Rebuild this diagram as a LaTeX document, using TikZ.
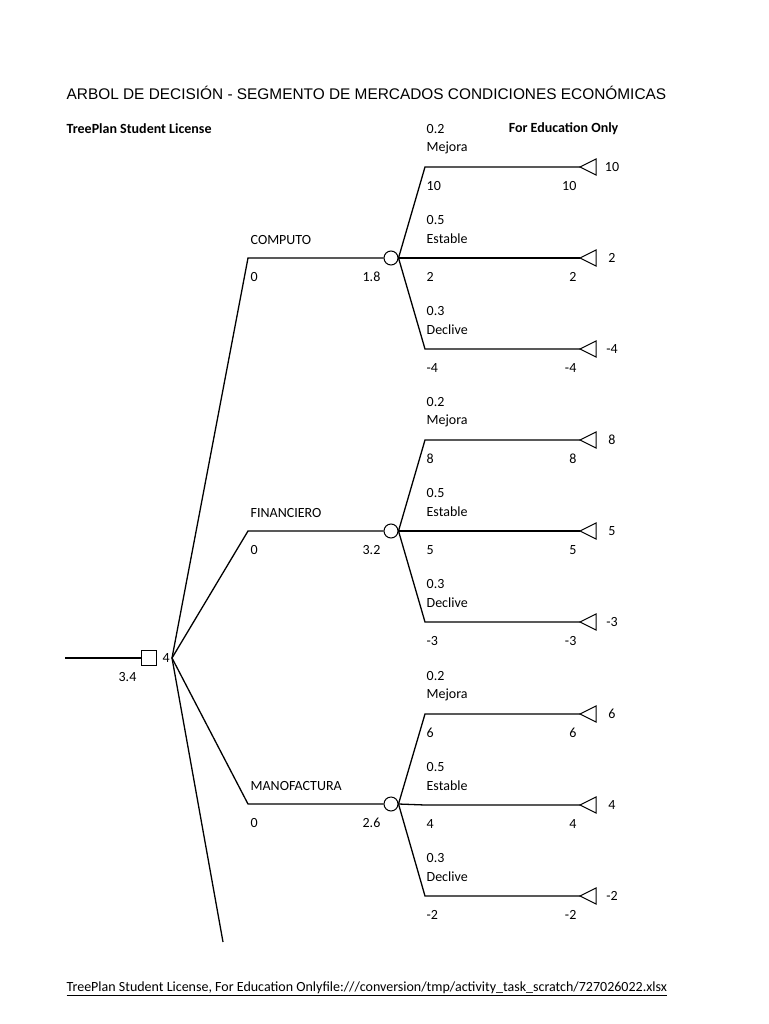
\documentclass[tikz,border=0pt]{standalone}
\usepackage{fontspec}
\setmainfont{Carlito}
\newfontfamily\arialf{Liberation Sans}
\begin{document}
\begin{tikzpicture}[x=1pt,y=-1pt,line width=1.3pt,
  lbl/.style={inner sep=0pt,anchor=west,font=\fontsize{14}{16}\selectfont},
  lblr/.style={inner sep=0pt,anchor=east,font=\fontsize{14}{16}\selectfont},
  lblc/.style={inner sep=0pt,font=\fontsize{14}{16}\selectfont},
  chance/.style={circle,draw,fill=white,minimum size=14pt,inner sep=0pt,line width=1pt},
  dec/.style={rectangle,draw,fill=white,minimum size=15pt,inner sep=0pt,line width=1pt},
  term/.style={draw,line width=1pt,fill=white}]
\useasboundingbox (0,0) rectangle (768,1024);
\node[inner sep=0pt,anchor=west,font=\arialf\fontsize{15.4}{17}\selectfont] (title) at (66,93) {ARBOL DE DECISIÓN - SEGMENTO DE MERCADOS CONDICIONES ECONÓMICAS};
\node[lbl,font=\bfseries\fontsize{14}{16}\selectfont] (tp) at (66,129) {TreePlan Student License};
\node[lblr,font=\bfseries\fontsize{14}{16}\selectfont] (fe) at (619,129) {For Education Only};
\node[lbl] (foot) at (66,989) {\underline{TreePlan Student License, For Education Onlyfile:///conversion/tmp/activity\_task\_scratch/727026022.xlsx}};
% decision
\coordinate (s0) at (65,658);
\node[dec] (d) at (149,658) {};
\draw (s0) -- (d.west);
\node[lbl] (dv) at (162,658) {4};
\node[lbl] (dl) at (118,677) {3.4};
\coordinate (fork) at (172,658);
\coordinate (b4) at (223,942);
\draw (fork) -- (b4);
\foreach \y/\name/\val/\i in {258/COMPUTO/1.8/1,531/FINANCIERO/3.2/2,804/MANOFACTURA/2.6/3}{
  \coordinate (bk\i) at (248,\y);
  \node[chance] (c\i) at (391,\y) {};
  \draw (fork) -- (bk\i) -- (c\i.west);
  \node[lbl] (bn\i) at (250,\y-18) {\name};
  \node[lbl] (bz\i) at (250,\y+19) {0};
  \node[lblr] (bv\i) at (381,\y+19) {\val};
}
\foreach \c/\y/\v/\p/\nm/\j in {1/167/10/0.2/Mejora/a,1/258/2/0.5/Estable/b,1/349/-4/0.3/Declive/c,
  2/440/8/0.2/Mejora/d,2/531/5/0.5/Estable/e,2/622/-3/0.3/Declive/f,
  3/714/6/0.2/Mejora/g,3/805/4/0.5/Estable/h,3/896/-2/0.3/Declive/i}{
  \coordinate (k\j) at (425,\y);
  \coordinate (t\j) at (580,\y);
  \draw (c\c.east) -- (k\j) -- (t\j);
  \draw[term] (t\j) -- (596,\y-8) -- (596,\y+8) -- cycle;
  \node[lbl] (p\j) at (426,\y-38) {\p};
  \node[lbl] (n\j) at (426,\y-19) {\nm};
  \node[lbl] (v\j) at (426,\y+19) {\v};
  \node[lblr] (r\j) at (577,\y+19) {\v};
  \node[lblc] (e\j) at (612,\y) {\v};
}
\end{tikzpicture}
\end{document}
